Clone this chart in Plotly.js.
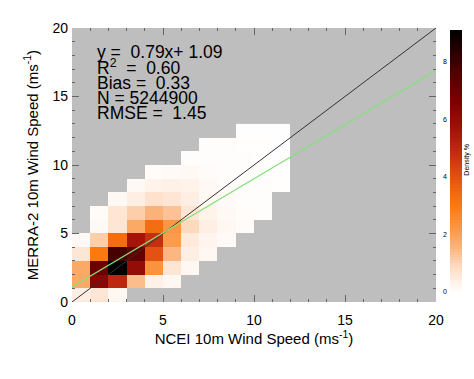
<!DOCTYPE html>
<html>
<head>
<meta charset="utf-8">
<script src="https://cdn.plot.ly/plotly-3.0.1.min.js"></script>
<style>html,body{margin:0;padding:0;background:#fff;}#chart{width:474px;height:379px;}</style>
</head>
<body>
<div id="chart"></div>
<script>
// Bin centres (1 m/s bins)
var xCenters = [0.5,1.5,2.5,3.5,4.5,5.5,6.5,7.5,8.5,9.5,10.5,11.5];
var yCenters = [0.5,1.5,2.5,3.5,4.5,5.5,6.5,7.5,8.5,9.5,10.5,11.5,12.5];
var N = null;
// Density % per bin, one row per y bin (bottom to top), columns x bins
var row0  = [0.4, 0.6, 0.2, N, N, N, N, N, N, N, N, N];
var row1  = [1.8, 6.3, 5.0, 1.4, 0.35, 0.2, N, N, N, N, N, N];
var row2  = [1.8, 7.0, 9.1, 6.0, 2.3, 0.6, 0.2, N, N, N, N, N];
var row3  = [0.6, 3.0, 7.8, 7.2, 4.0, 1.5, 0.4, 0.2, N, N, N, N];
var row4  = [0.15, 1.1, 3.3, 5.6, 4.8, 2.1, 0.5, 0.25, 0.12, N, N, N];
var row5  = [N, 0.15, 0.6, 1.8, 3.3, 2.2, 0.9, 0.4, 0.2, 0.1, N, N];
var row6  = [N, 0.1, 0.6, 1.1, 1.6, 1.3, 0.6, 0.3, 0.15, 0.08, 0.05, N];
var row7  = [N, N, 0.15, 0.4, 0.7, 0.6, 0.4, 0.2, 0.12, 0.06, 0.04, N];
var row8  = [N, N, N, 0.15, 0.3, 0.35, 0.3, 0.15, 0.08, 0.05, 0.04, 0.03];
var row9  = [N, N, N, N, 0.08, 0.12, 0.15, 0.1, 0.06, 0.04, 0.03, 0.02];
var row10 = [N, N, N, N, N, N, 0.06, 0.06, 0.05, 0.04, 0.03, 0.02];
var row11 = [N, N, N, N, N, N, N, 0.04, 0.04, 0.03, 0.03, 0.02];
var row12 = [N, N, N, N, N, N, N, N, N, 0.02, 0.02, 0.02];
var densityRows = [row0,row1,row2,row3,row4,row5,row6,row7,row8,row9,row10,row11,row12];

// Fit statistics
var slope = 0.79, intercept = 1.09;
var statLines = ['y =  0.79x+ 1.09', 'R<sup>2</sup>  =  0.60', 'Bias =  0.33', 'N = 5244900', 'RMSE =  1.45'];
var lineX = [0, 20];
var oneToOneY = [0, 20];
var fitY = lineX.map(function(v){ return slope*v + intercept; });

var zMax = 9.1;
var cbTicks = [0, 2, 4, 6, 8];
var cbLevels = [];
for (var i = 0; i < 91; i++) cbLevels.push(i*0.1 + 0.05);

var cscale = [
  [0.00,'#ffffff'],[0.04,'#fff0e6'],[0.10,'#fdd9bd'],[0.17,'#fbb47c'],
  [0.25,'#fa9440'],[0.33,'#fa7a10'],[0.42,'#e85a10'],[0.52,'#c83010'],
  [0.62,'#a01408'],[0.72,'#800000'],[0.85,'#4a0000'],[1.00,'#000000']
];

var FONT = 'Liberation Sans, Arial, Helvetica, sans-serif';

var traces = [
  {type:'heatmap', x:xCenters, y:yCenters, z:densityRows, colorscale:cscale,
   zmin:0, zmax:zMax, showscale:false, hoverinfo:'skip', xaxis:'x', yaxis:'y'},
  {type:'scatter', mode:'lines', x:lineX, y:oneToOneY, line:{color:'#333333', width:1},
   xaxis:'x', yaxis:'y', hoverinfo:'skip'},
  {type:'scatter', mode:'lines', x:lineX, y:fitY, line:{color:'#86e07a', width:1.2},
   xaxis:'x', yaxis:'y', hoverinfo:'skip'},
  // custom colour bar
  {type:'heatmap', x:[0], y:cbLevels, z:cbLevels.map(function(v){return [v];}),
   colorscale:cscale, zmin:0, zmax:zMax, showscale:false, hoverinfo:'skip',
   xaxis:'x2', yaxis:'y2'},
  {type:'scatter', mode:'markers', x:[0], y:[-0.2], xaxis:'x2', yaxis:'y2',
   marker:{symbol:'triangle-down', size:13, color:'#a8a8a8', line:{width:0}},
   cliponaxis:false, hoverinfo:'skip'}
];

var annotations = statLines.map(function(t, k){
  var ys = [18.28, 17.15, 16.02, 14.89, 13.76];
  return {text:t, x:1.25, y:ys[k], xref:'x', yref:'y', xanchor:'left', yanchor:'middle',
          showarrow:false, font:{family:FONT, size:17.5, color:'#000'}};
});
annotations.push({text:'Density %', xref:'paper', yref:'paper', x:1.026, y:0.52,
  textangle:-90, showarrow:false, font:{family:FONT, size:7, color:'#000'}});

var layout = {
  width:474, height:379,
  margin:{l:72, r:12, t:28, b:77},
  paper_bgcolor:'#ffffff', plot_bgcolor:'#bebebe',
  showlegend:false,
  font:{family:FONT, color:'#000'},
  xaxis:{domain:[0, 364/390], range:[0,20], tickvals:[0,5,10,15,20], ticks:'inside',
    ticklen:7, tickcolor:'#666', mirror:'ticks', showgrid:false, zeroline:false,
    showline:false, tickfont:{size:14, family:FONT}, ticklabelstandoff:8,
    minor:{dtick:1, ticks:'inside', ticklen:3, tickcolor:'#666', showgrid:false},
    title:{text:'NCEI 10m Wind Speed (ms<sup>-1</sup>)', font:{size:15, family:FONT}, standoff:6}},
  yaxis:{domain:[0,1], range:[0,20], tickvals:[0,5,10,15,20], ticks:'inside',
    ticklen:7, tickcolor:'#666', mirror:'ticks', showgrid:false, zeroline:false,
    showline:false, tickfont:{size:14, family:FONT}, ticklabelstandoff:3,
    minor:{dtick:1, ticks:'inside', ticklen:3, tickcolor:'#666', showgrid:false},
    title:{text:'MERRA-2 10m Wind Speed (ms<sup>-1</sup>)', font:{size:15, family:FONT}, standoff:10}},
  xaxis2:{domain:[378/390, 1], range:[-0.5,0.5], showticklabels:false, ticks:'',
    showgrid:false, zeroline:false, showline:false, anchor:'y2'},
  yaxis2:{domain:[10/274, 272/274], range:[0, zMax], tickvals:cbTicks, ticks:'',
    showgrid:false, zeroline:false, showline:false, side:'left', anchor:'x2',
    tickfont:{size:7, family:FONT}, ticklabelstandoff:2},
  annotations:annotations
};

Plotly.newPlot('chart', traces, layout, {staticPlot:true, displayModeBar:false});
</script>
</body>
</html>
